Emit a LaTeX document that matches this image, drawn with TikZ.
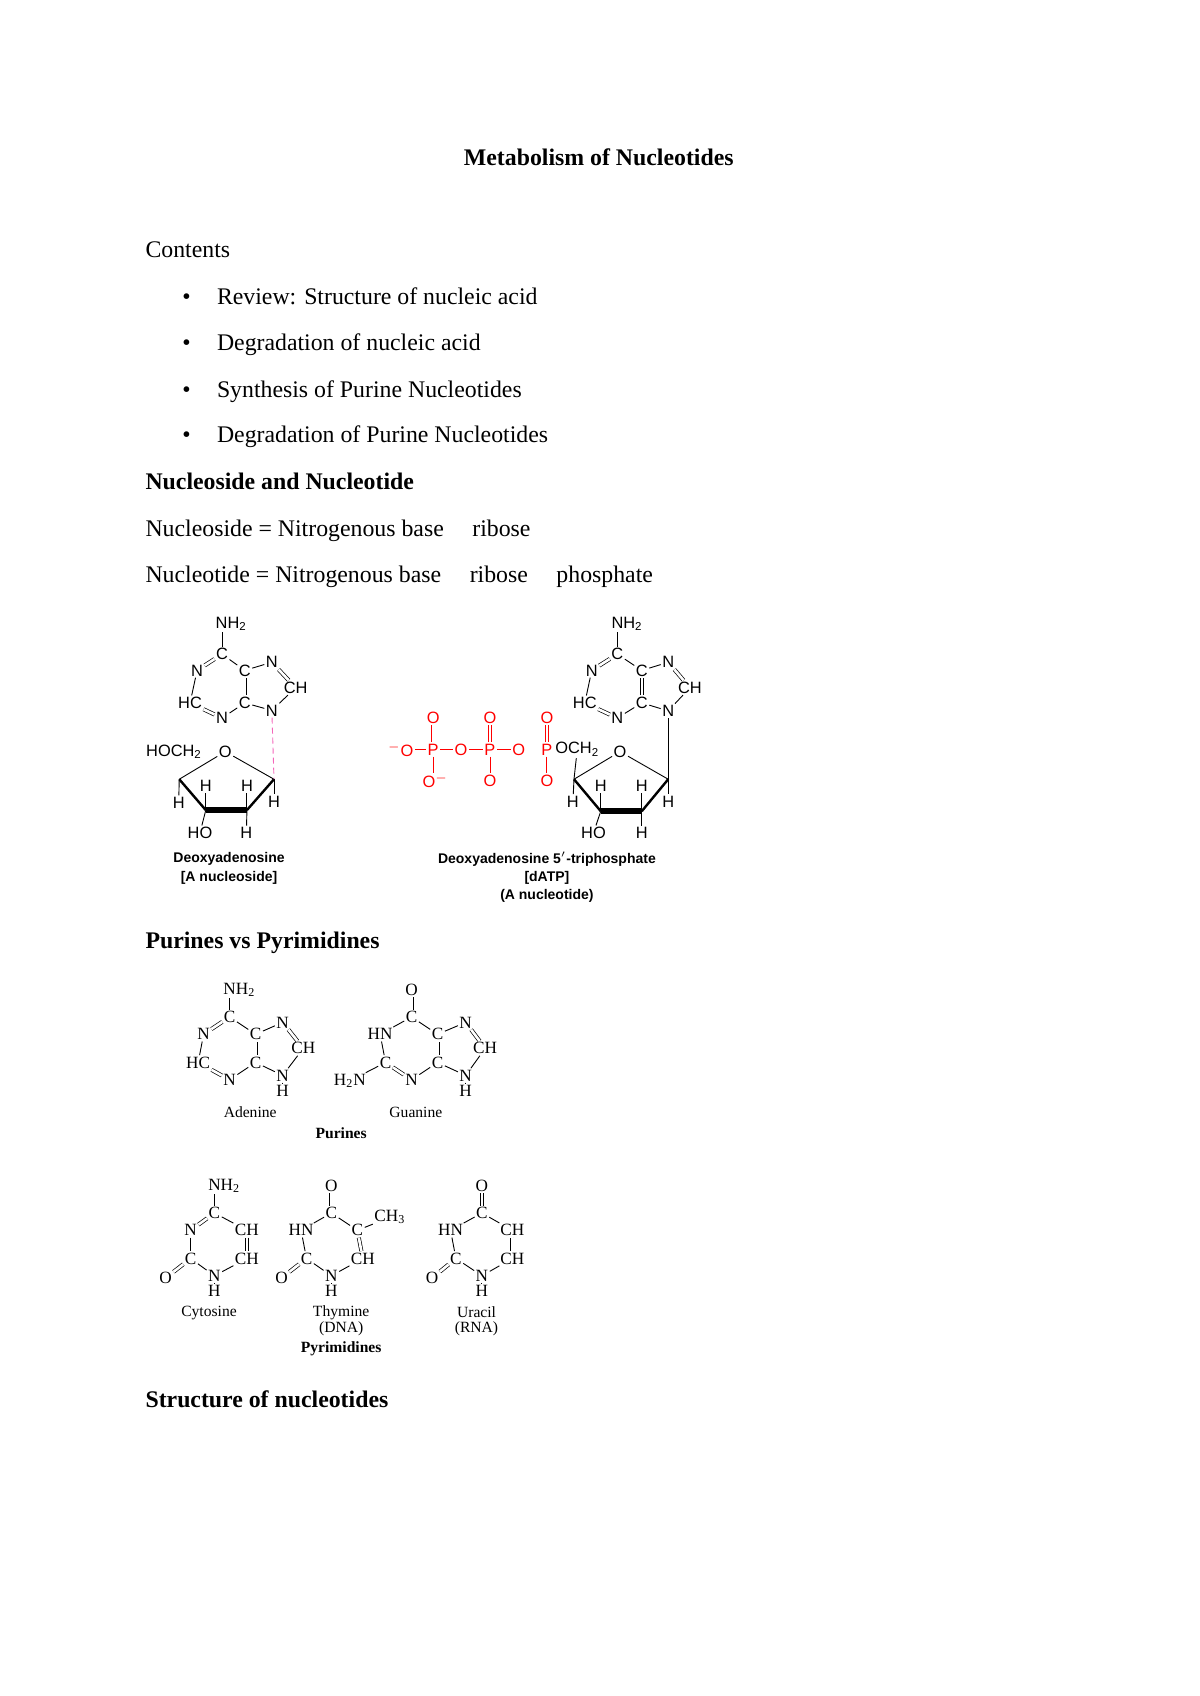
\documentclass[tikz,border=0pt]{standalone}
\usepackage{fontspec}
\setmainfont{Liberation Serif}
\newfontfamily\chemsans{Liberation Sans}
\begin{document}
\begin{tikzpicture}[x=0.5415pt,y=-0.5415pt,
  txt/.style={anchor=base west,inner sep=0,font=\fontsize{11.9}{14}\selectfont},
  hd/.style={txt,font=\fontsize{11.9}{14}\selectfont\bfseries},
  as/.style={inner sep=0.6pt,font=\chemsans\fontsize{8.2}{9}\selectfont},
  ar/.style={inner sep=0.6pt,font=\fontsize{8.6}{9}\selectfont},
  capt/.style={inner sep=0,font=\chemsans\fontsize{7}{8}\selectfont\bfseries},
  capr/.style={inner sep=0,font=\fontsize{7.8}{8.5}\selectfont},
  b/.style={draw,line width=0.45pt},
  db/.style={draw,double,double distance=1.3pt,line width=0.35pt},
  rtx/.style={text=red}]
\useasboundingbox (0,0) rectangle (1108,1566);
% ---------- text
\node[txt] (title) at (428,153) {\bfseries Metabolism of Nucleotides};
\node[txt] (cont) at (134,238) {Contents};
\foreach \y/\t [count=\i] in {281/{Review: Structure of nucleic acid},324/{Degradation of nucleic acid},367/{Synthesis of Purine Nucleotides},409/{Degradation of Purine Nucleotides}}{
  \node[txt] (bu\i) at (168,\y) {\textbullet};
  \node[txt] (it\i) at (200,\y) {\t};}
\node[hd] (h1) at (134,452) {Nucleoside and Nucleotide};
\node[txt] (l1) at (134,495) {Nucleoside = Nitrogenous base\hspace{1.2em}ribose};
\node[txt] (l2) at (134,538) {Nucleotide = Nitrogenous base\hspace{1.2em}ribose\hspace{1.2em}phosphate};
\node[hd] (h2) at (134,876) {Purines vs Pyrimidines};
\node[hd] (h3) at (134,1300) {Structure of nucleotides};
% ---------- deoxyadenosine
\node[as] (aNH) at (213.5,576) {NH\textsubscript{2}};
\node[as] (aC6) at (205,604) {C};
\node[as] (aN7) at (251,611.5) {N};
\node[as] (aN1) at (182,619) {N};
\node[as] (aC5) at (226,619) {C};
\node[as] (aC8) at (273,635) {CH};
\node[as] (aC2) at (175.5,649) {HC};
\node[as] (aC4) at (226,649) {C};
\node[as] (aN3) at (205,663) {N};
\node[as] (aN9) at (251,656) {N};
\draw[b] (aC6)--(aC6 |- aNH.south); \draw[db] (aC6)--(aN1); \draw[b] (aN1)--(aC2);
\draw[db] (aC2)--(aN3); \draw[b] (aN3)--(aC4); \draw[db] (aC4)--(aC5);
\draw[b] (aC5)--(aC6); \draw[b] (aC5)--(aN7); \draw[db] (aN7)--(aC8);
\draw[b] (aC8)--(aN9); \draw[b] (aN9)--(aC4);
\node[as] (aHO) at (160.7,694) {HOCH\textsubscript{2}};
\node[as] (aO) at (208,694) {O};
\coordinate (aL) at (165.5,719.5); \coordinate (aBL) at (190,748);
\coordinate (aBR) at (228,748); \coordinate (aR) at (253,719.5);
\node[as] (aH1) at (190,725.6) {H}; \node[as] (aH2) at (228,725.6) {H};
\node[as] (aH3) at (165,741) {H}; \node[as] (aH4) at (253,740) {H};
\node[as] (aH5) at (184.7,769) {HO}; \node[as] (aH6) at (227.5,769) {H};
\draw[b] (aO)--(aL); \draw[b] (aR)--(aO);
\draw[line width=1.2pt] (aL)--(aBL); \draw[line width=3pt] (aBL)--(aBR); \draw[line width=1.2pt] (aBR)--(aR);
\draw[b] (aBL)--(aH1); \draw[b] (aBR)--(aH2); \draw[b] (aL)--(aH3); \draw[b] (aR)--(aH4);
\draw[b] (aBL)--(aH5); \draw[b] (aBR)--(aH6);
\draw[b,draw=magenta!60,densely dashed] (aN9)--(aR);
\node[capt] (acap1) at (211.5,793) {Deoxyadenosine};
\node[capt] (acap2) at (211.5,810.7) {[A nucleoside]};
% ---------- dATP
\node[as,rtx] (dO0) at (370,692) {\textsuperscript{$-$}O};
\node[as,rtx] (dP1) at (400,692) {P};
\node[as,rtx] (dO1) at (425.7,692) {O};
\node[as,rtx] (dP2) at (452.4,692) {P};
\node[as,rtx] (dO2) at (479,692) {O};
\node[as,rtx] (dP3) at (505,692) {P};
\node[as] (dC5) at (533,692) {OCH\textsubscript{2}};
\node[as,rtx] (dU1) at (400,662.6) {O}; \node[as,rtx] (dU2) at (452.4,662.6) {O}; \node[as,rtx] (dU3) at (505,662.6) {O};
\node[as,rtx] (dD1) at (402,721) {O\textsuperscript{$-$}}; \node[as,rtx] (dD2) at (452.4,721) {O}; \node[as,rtx] (dD3) at (505,721) {O};
\draw[b,draw=red] (dO0)--(dP1); \draw[b,draw=red] (dP1)--(dO1); \draw[b,draw=red] (dO1)--(dP2); \draw[b,draw=red] (dP2)--(dO2);
\draw[db,draw=red] (dP1)--(dU1); \draw[db,draw=red] (dP2)--(dU2); \draw[db,draw=red] (dP3)--(dU3);
\draw[b,draw=red] (dP1)--(dP1 |- dD1.north); \draw[b,draw=red] (dP2)--(dD2); \draw[b,draw=red] (dP3)--(dD3);
\node[as] (dO) at (572.5,694) {O};
\coordinate (dL) at (530,719.5); \coordinate (dBL) at (554.7,749);
\coordinate (dBR) at (592.6,749); \coordinate (dR) at (617,719.5);
\node[as] (dH1) at (554.7,725.6) {H}; \node[as] (dH2) at (592.6,725.6) {H};
\node[as] (dH3) at (529,740) {H}; \node[as] (dH4) at (617,740) {H};
\node[as] (dH5) at (548,769) {HO}; \node[as] (dH6) at (592.6,769) {H};
\draw[b] (dC5)--(dL);
\draw[b] (dO)--(dL); \draw[b] (dR)--(dO);
\draw[line width=1.2pt] (dL)--(dBL); \draw[line width=3pt] (dBL)--(dBR); \draw[line width=1.2pt] (dBR)--(dR);
\draw[b] (dBL)--(dH1); \draw[b] (dBR)--(dH2); \draw[b] (dL)--(dH3); \draw[b] (dR)--(dH4);
\draw[b] (dBL)--(dH5); \draw[b] (dBR)--(dH6);
\node[as] (dNH) at (579,576) {NH\textsubscript{2}};
\node[as] (dC6) at (570,604) {C};
\node[as] (dN7) at (617,611.5) {N};
\node[as] (dN1) at (546.4,619) {N};
\node[as] (dC5r) at (592.6,619) {C};
\node[as] (dC8) at (637,635) {CH};
\node[as] (dC2) at (540,649) {HC};
\node[as] (dC4) at (592.6,649) {C};
\node[as] (dN3) at (570,663) {N};
\node[as] (dN9) at (617,656.4) {N};
\draw[b] (dC6)--(dC6 |- dNH.south); \draw[db] (dC6)--(dN1); \draw[b] (dN1)--(dC2);
\draw[db] (dC2)--(dN3); \draw[b] (dN3)--(dC4); \draw[db] (dC4)--(dC5r);
\draw[b] (dC5r)--(dC6); \draw[b] (dC5r)--(dN7); \draw[db] (dN7)--(dC8);
\draw[b] (dC8)--(dN9); \draw[b] (dN9)--(dC4);
\draw[b] (dN9)--(dR);
\node[capt] (dcap1) at (505,793) {Deoxyadenosine 5$'$-triphosphate};
\node[capt] (dcap2) at (505,810.7) {[dATP]};
\node[capt] (dcap3) at (505,827.5) {(A nucleotide)};
% ---------- adenine
\node[ar] (eNH) at (221,914) {NH\textsubscript{2}};
\node[ar] (eC6) at (212,939) {C};
\node[ar] (eN7) at (261,944) {N};
\node[ar] (eN1) at (188,955) {N};
\node[ar] (eC5) at (236,955) {C};
\node[ar] (eC8) at (280,968) {CH};
\node[ar] (eC2) at (183,981) {HC};
\node[ar] (eC4) at (236,981) {C};
\node[ar] (eN3) at (212,997) {N};
\node[ar] (eN9) at (261,993) {N};
\node[ar] (eH9) at (261,1007) {H};
\draw[b] (eC6)--(eC6 |- eNH.south); \draw[db] (eC6)--(eN1); \draw[b] (eN1)--(eC2);
\draw[db] (eC2)--(eN3); \draw[b] (eN3)--(eC4); \draw[db] (eC4)--(eC5);
\draw[b] (eC5)--(eC6); \draw[b] (eC5)--(eN7); \draw[db] (eN7)--(eC8);
\draw[b] (eC8)--(eN9); \draw[b] (eN9)--(eC4); \draw[b] (eN9)--(eH9);
\node[capr] (ecap) at (231,1027) {Adenine};
% ---------- guanine
\node[ar] (gO) at (380,914) {O};
\node[ar] (gC6) at (380,939) {C};
\node[ar] (gN7) at (430,944) {N};
\node[ar] (gN1) at (351,955) {HN};
\node[ar] (gC5) at (404,955) {C};
\node[ar] (gC8) at (448,968) {CH};
\node[ar] (gC2) at (356,981) {C};
\node[ar] (gC4) at (404,981) {C};
\node[ar] (gN3) at (380,997) {N};
\node[ar] (gN9) at (430,993) {N};
\node[ar] (gH9) at (430,1007) {H};
\node[ar] (gNH) at (323,998) {H\textsubscript{2}N};
\draw[db] (gO)--(gC6); \draw[b] (gC6)--(gN1); \draw[b] (gN1)--(gC2);
\draw[db] (gC2)--(gN3); \draw[b] (gN3)--(gC4); \draw[db] (gC4)--(gC5);
\draw[b] (gC5)--(gC6); \draw[b] (gC5)--(gN7); \draw[db] (gN7)--(gC8);
\draw[b] (gC8)--(gN9); \draw[b] (gN9)--(gC4); \draw[b] (gN9)--(gH9);
\draw[b] (gC2)--(gNH);
\node[capr] (gcap) at (384,1027) {Guanine};
\node[capr,font=\fontsize{7.8}{8.5}\selectfont\bfseries] (pur) at (315,1046) {Purines};
% ---------- cytosine
\node[ar] (cNH) at (207,1095) {NH\textsubscript{2}};
\node[ar] (cC4) at (198,1120) {C};
\node[ar] (cN3) at (176,1136) {N};
\node[ar] (cC5) at (228,1136) {CH};
\node[ar] (cC2) at (176,1162) {C};
\node[ar] (cC6) at (228,1162) {CH};
\node[ar] (cN1) at (198,1178) {N};
\node[ar] (cH1) at (198,1192) {H};
\node[ar] (cO) at (153,1180) {O};
\draw[b] (cC4)--(cC4 |- cNH.south); \draw[db] (cC4)--(cN3); \draw[b] (cC4)--(cC5);
\draw[b] (cN3)--(cC2); \draw[db] (cC5)--(cC6); \draw[b] (cC2)--(cN1);
\draw[b] (cC6)--(cN1); \draw[b] (cN1)--(cH1); \draw[db] (cC2)--(cO);
\node[capr] (ccap) at (193,1212) {Cytosine};
% ---------- thymine
\node[ar] (tO4) at (306,1095) {O};
\node[ar] (tC4) at (306,1120) {C};
\node[ar] (tN3) at (278,1136) {HN};
\node[ar] (tC5) at (330,1136) {C};
\node[ar] (tMe) at (360,1124) {CH\textsubscript{3}};
\node[ar] (tC2) at (283,1162) {C};
\node[ar] (tC6) at (335,1162) {CH};
\node[ar] (tN1) at (306,1178) {N};
\node[ar] (tH1) at (306,1192) {H};
\node[ar] (tO2) at (260,1180) {O};
\draw[db] (tO4)--(tC4); \draw[b] (tC4)--(tN3); \draw[b] (tC4)--(tC5);
\draw[b] (tC5)--(tMe); \draw[b] (tN3)--(tC2); \draw[db] (tC5)--(tC6);
\draw[b] (tC2)--(tN1); \draw[b] (tC6)--(tN1); \draw[b] (tN1)--(tH1); \draw[db] (tC2)--(tO2);
\node[capr] (tcap1) at (315,1212) {Thymine};
\node[capr] (tcap2) at (315,1227) {(DNA)};
\node[capr,font=\fontsize{7.8}{8.5}\selectfont\bfseries] (pyr) at (315,1245) {Pyrimidines};
% ---------- uracil
\node[ar] (uO4) at (445,1095) {O};
\node[ar] (uC4) at (445,1120) {C};
\node[ar] (uN3) at (416,1136) {HN};
\node[ar] (uC5) at (473,1136) {CH};
\node[ar] (uC2) at (421,1162) {C};
\node[ar] (uC6) at (473,1162) {CH};
\node[ar] (uN1) at (445,1178) {N};
\node[ar] (uH1) at (445,1192) {H};
\node[ar] (uO2) at (399,1180) {O};
\draw[db] (uO4)--(uC4); \draw[b] (uC4)--(uN3); \draw[b] (uC4)--(uC5);
\draw[b] (uN3)--(uC2); \draw[db] (uC5)--(uC6);
\draw[b] (uC2)--(uN1); \draw[b] (uC6)--(uN1); \draw[b] (uN1)--(uH1); \draw[db] (uC2)--(uO2);
\node[capr] (ucap1) at (440,1212) {Uracil};
\node[capr] (ucap2) at (440,1227) {(RNA)};
\end{tikzpicture}
\end{document}
